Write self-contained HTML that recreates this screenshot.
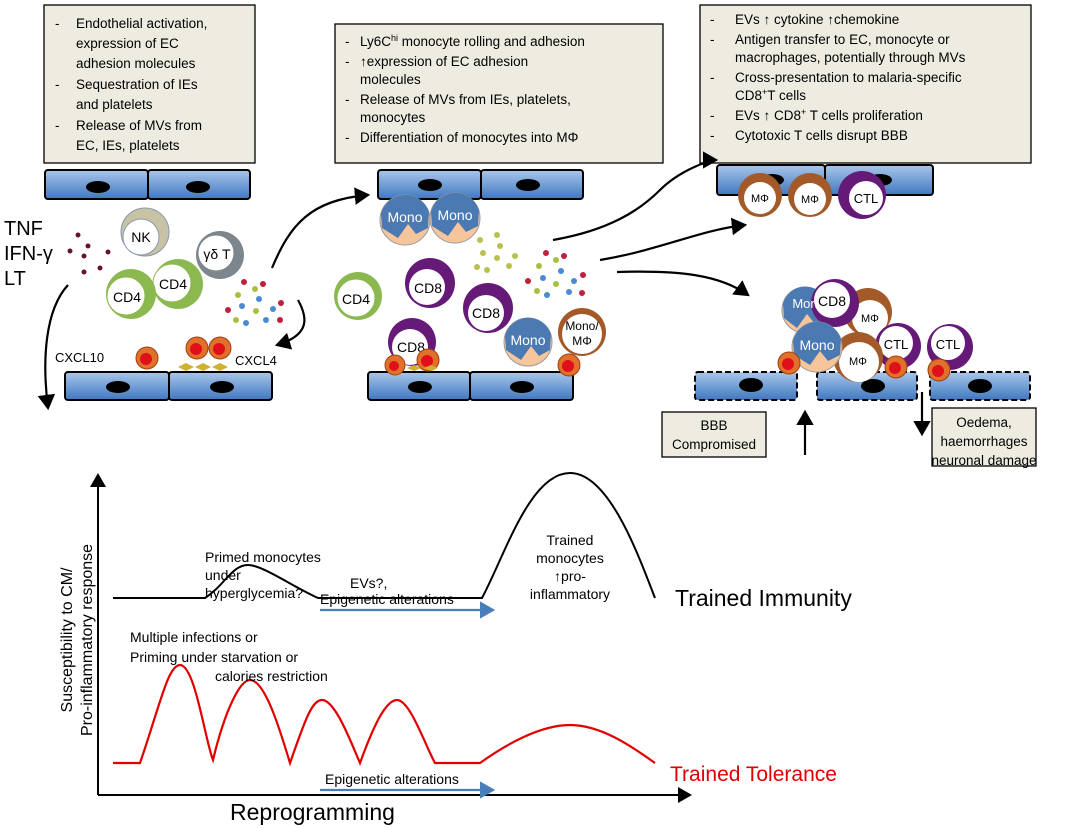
<!DOCTYPE html><html><head><style>body{margin:0;background:#fff}svg{display:block}text{font-family:"Liberation Sans",sans-serif}</style></head><body>
<svg width="1084" height="828" viewBox="0 0 1084 828" xmlns="http://www.w3.org/2000/svg">
<defs>
<linearGradient id="ec" x1="0" y1="0" x2="0" y2="1"><stop offset="0" stop-color="#a9c6ea"/><stop offset="1" stop-color="#3f78c0"/></linearGradient>
<marker id="ah" markerWidth="8" markerHeight="8" refX="6" refY="4" orient="auto" markerUnits="strokeWidth"><path d="M0,0 L7,4 L0,8 z" fill="#000"/></marker>
<marker id="bh" markerWidth="8" markerHeight="8" refX="6" refY="4" orient="auto" markerUnits="strokeWidth"><path d="M0,0 L7,4 L0,8 z" fill="#4a7ebb"/></marker>
</defs>
<g fill="#eeece1" stroke="#000" stroke-width="1.3">
<rect x="44" y="5" width="211" height="158"/><rect x="335" y="24" width="328" height="139"/><rect x="700" y="5" width="331" height="158"/>
<rect x="662" y="412" width="104" height="45"/><rect x="932" y="408" width="104" height="58"/></g>
<g font-size="13.5" fill="#000">
<text x="55" y="28">-</text><text x="76" y="28">Endothelial activation,</text><text x="76" y="48">expression of EC</text><text x="76" y="68">adhesion molecules</text><text x="55" y="89">-</text><text x="76" y="89">Sequestration of IEs</text><text x="76" y="109">and platelets</text><text x="55" y="130">-</text><text x="76" y="130">Release of MVs from</text><text x="76" y="150">EC, IEs, platelets</text>
<text x="345" y="46">-</text><text x="360" y="46">Ly6C<tspan font-size="9" dy="-5">hi</tspan><tspan dy="5"> monocyte rolling and adhesion</tspan></text>
<text x="345" y="66">-</text><text x="360" y="66">↑expression of EC adhesion</text><text x="360" y="84">molecules</text>
<text x="345" y="104">-</text><text x="360" y="104">Release of MVs from IEs, platelets,</text><text x="360" y="122">monocytes</text>
<text x="345" y="142">-</text><text x="360" y="142">Differentiation of monocytes into MΦ</text>
<text x="710" y="24">-</text><text x="735" y="24">EVs ↑ cytokine ↑chemokine</text>
<text x="710" y="44">-</text><text x="735" y="44">Antigen transfer to EC, monocyte or</text><text x="735" y="62">macrophages, potentially through MVs</text>
<text x="710" y="82">-</text><text x="735" y="82">Cross-presentation to malaria-specific</text><text x="735" y="100">CD8<tspan font-size="9" dy="-5">+</tspan><tspan dy="5">T cells</tspan></text>
<text x="710" y="120">-</text><text x="735" y="120">EVs ↑ CD8<tspan font-size="9" dy="-5">+</tspan><tspan dy="5"> T cells proliferation</tspan></text>
<text x="710" y="140">-</text><text x="735" y="140">Cytotoxic T cells disrupt BBB</text>
<text x="714" y="430" text-anchor="middle">BBB</text><text x="714" y="449" text-anchor="middle">Compromised</text>
<text x="984" y="427" text-anchor="middle">Oedema,</text><text x="984" y="446" text-anchor="middle">haemorrhages</text><text x="984" y="465" text-anchor="middle">neuronal damage</text>
</g>
<g font-size="20"><text x="4" y="235">TNF</text><text x="4" y="260">IFN-γ</text><text x="4" y="285">LT</text></g>
<g font-size="13"><text x="55" y="362">CXCL10</text><text x="235" y="365">CXCL4</text></g>
<!-- endothelium -->
<g stroke="#000" stroke-width="2" fill="url(#ec)">
<rect x="45" y="170" width="103" height="29" rx="3"/><rect x="148" y="170" width="102" height="29" rx="3"/>
<rect x="378" y="170" width="103" height="29" rx="3"/><rect x="481" y="170" width="102" height="29" rx="3"/>
<rect x="717" y="165" width="108" height="30" rx="3"/><rect x="825" y="165" width="108" height="30" rx="3"/>
<rect x="65" y="372" width="104" height="28" rx="3"/><rect x="169" y="372" width="103" height="28" rx="3"/>
<rect x="368" y="372" width="102" height="28" rx="3"/><rect x="470" y="372" width="103" height="28" rx="3"/>
<g stroke-dasharray="6,3"><rect x="695" y="372" width="102" height="28" rx="3"/><rect x="817" y="372" width="100" height="28" rx="3"/><rect x="930" y="372" width="100" height="28" rx="3"/></g>
</g>
<g fill="#000"><ellipse cx="98" cy="187" rx="12" ry="6"/><ellipse cx="198" cy="187" rx="12" ry="6"/><ellipse cx="430" cy="185" rx="12" ry="6"/><ellipse cx="528" cy="185" rx="12" ry="6"/><ellipse cx="772" cy="180" rx="12" ry="6"/><ellipse cx="880" cy="180" rx="12" ry="6"/>
<ellipse cx="118" cy="387" rx="12" ry="6"/><ellipse cx="222" cy="387" rx="12" ry="6"/><ellipse cx="420" cy="387" rx="12" ry="6"/><ellipse cx="522" cy="387" rx="12" ry="6"/><ellipse cx="751" cy="385" rx="12" ry="7"/><ellipse cx="873" cy="386" rx="12" ry="7"/><ellipse cx="980" cy="386" rx="12" ry="7"/></g>
<!-- cytokine dots -->
<g fill="#6a1030"><circle cx="78" cy="235" r="2.5"/><circle cx="88" cy="246" r="2.5"/><circle cx="108" cy="252" r="2.5"/><circle cx="70" cy="251" r="2.5"/><circle cx="84" cy="256" r="2.5"/><circle cx="100" cy="268" r="2.5"/><circle cx="84" cy="272" r="2.5"/></g>
<g><circle cx="244" cy="282" r="3" fill="#c0203a"/><circle cx="263" cy="284" r="3" fill="#c0203a"/><circle cx="281" cy="303" r="3" fill="#c0203a"/><circle cx="228" cy="310" r="3" fill="#c0203a"/><circle cx="280" cy="320" r="3" fill="#c0203a"/>
<circle cx="255" cy="289" r="3" fill="#a8c040"/><circle cx="238" cy="295" r="3" fill="#a8c040"/><circle cx="256" cy="311" r="3" fill="#a8c040"/><circle cx="236" cy="320" r="3" fill="#a8c040"/>
<circle cx="259" cy="299" r="3" fill="#4a8ad0"/><circle cx="242" cy="306" r="3" fill="#4a8ad0"/><circle cx="273" cy="309" r="3" fill="#4a8ad0"/><circle cx="246" cy="323" r="3" fill="#4a8ad0"/><circle cx="266" cy="320" r="3" fill="#4a8ad0"/>
<g fill="#b8c050"><circle cx="480" cy="240" r="3"/><circle cx="497" cy="235" r="3"/><circle cx="500" cy="246" r="3"/><circle cx="483" cy="253" r="3"/><circle cx="497" cy="258" r="3"/><circle cx="515" cy="256" r="3"/><circle cx="477" cy="267" r="3"/><circle cx="487" cy="270" r="3"/><circle cx="509" cy="266" r="3"/></g>
<circle cx="546" cy="253" r="3" fill="#c0203a"/><circle cx="564" cy="256" r="3" fill="#c0203a"/><circle cx="528" cy="281" r="3" fill="#c0203a"/><circle cx="583" cy="275" r="3" fill="#c0203a"/><circle cx="582" cy="293" r="3" fill="#c0203a"/>
<circle cx="556" cy="260" r="3" fill="#a8c040"/><circle cx="539" cy="266" r="3" fill="#a8c040"/><circle cx="556" cy="284" r="3" fill="#a8c040"/><circle cx="537" cy="291" r="3" fill="#a8c040"/>
<circle cx="561" cy="271" r="3" fill="#4a8ad0"/><circle cx="543" cy="278" r="3" fill="#4a8ad0"/><circle cx="574" cy="281" r="3" fill="#4a8ad0"/><circle cx="547" cy="295" r="3" fill="#4a8ad0"/><circle cx="569" cy="292" r="3" fill="#4a8ad0"/></g>
<!-- crescent cells -->
<g font-size="14" text-anchor="middle">
<g><circle cx="145" cy="232" r="24" fill="#c8c3a5" stroke="#8899aa"/><circle cx="141" cy="237" r="18" fill="#fff" stroke="#8899aa"/><text x="141" y="242">NK</text></g>
<g><circle cx="220" cy="255" r="24" fill="#7c868c"/><circle cx="216" cy="253" r="18" fill="#fff" stroke="#7c868c"/><text x="217" y="259">γδ T</text></g>
<g><circle cx="178" cy="284" r="25" fill="#8cb850"/><circle cx="172" cy="283" r="19" fill="#fff" stroke="#8cb850"/><text x="173" y="289">CD4</text></g>
<g><circle cx="131" cy="294" r="25" fill="#8cb850"/><circle cx="126" cy="296" r="19" fill="#fff" stroke="#8cb850"/><text x="127" y="302">CD4</text></g>
<g><circle cx="358" cy="296" r="24" fill="#8cb850"/><circle cx="356" cy="298" r="19" fill="#fff" stroke="#8cb850"/><text x="356" y="304">CD4</text></g>
<g><circle cx="430" cy="283" r="25" fill="#651a78"/><circle cx="427" cy="287" r="18" fill="#fff"/><text x="428" y="293">CD8</text></g>
<g><circle cx="488" cy="308" r="25" fill="#651a78"/><circle cx="486" cy="313" r="18" fill="#fff"/><text x="486" y="318">CD8</text></g>
<g><circle cx="412" cy="342" r="24" fill="#651a78"/><circle cx="410" cy="347" r="18" fill="#fff"/><text x="411" y="352">CD8</text></g>
<g><circle cx="582" cy="332" r="24" fill="#a35a28"/><circle cx="582" cy="334" r="20" fill="#fff"/><text x="582" y="330" font-size="12">Mono/</text><text x="582" y="345" font-size="12">MΦ</text></g>
<g><circle cx="760" cy="195" r="22" fill="#a35a28"/><circle cx="760" cy="198" r="16" fill="#fff"/><text x="760" y="202" font-size="11">MΦ</text></g>
<g><circle cx="810" cy="195" r="22" fill="#a35a28"/><circle cx="810" cy="199" r="16" fill="#fff"/><text x="810" y="203" font-size="11">MΦ</text></g>
<g><circle cx="862" cy="195" r="24" fill="#651a78"/><circle cx="866" cy="198" r="17" fill="#fff"/><text x="866" y="203" font-size="13">CTL</text></g>
<!-- mono -->
<g><circle cx="405" cy="220" r="25" fill="#f7c59c" stroke="#999"/><path d="M381,214 A25,25 0 0 1 429,212 L428,228 L416,234 L408,224 L398,238 L382,228z" fill="#4b79b2"/><text x="405" y="222" fill="#fff">Mono</text></g>
<g><circle cx="455" cy="218" r="25" fill="#f7c59c" stroke="#999"/><path d="M431,212 A25,25 0 0 1 479,210 L478,226 L466,232 L458,222 L448,236 L432,226z" fill="#4b79b2"/><text x="455" y="220" fill="#fff">Mono</text></g>
<g><circle cx="528" cy="342" r="24" fill="#f7c59c" stroke="#999"/><path d="M505,336 A24,24 0 0 1 551,334 L550,350 L539,356 L531,346 L521,360 L506,350z" fill="#4b79b2"/><text x="528" y="345" fill="#fff">Mono</text></g>
<g><circle cx="805" cy="310" r="23" fill="#f7c59c" stroke="#999"/><path d="M783,304 A23,23 0 0 1 827,302 L826,318 L815,324 L807,314 L797,328 L784,318z" fill="#4b79b2"/></g>
<g><circle cx="868" cy="312" r="24" fill="#a35a28"/><circle cx="870" cy="318" r="18" fill="#fff"/><text x="870" y="322" font-size="11">MΦ</text></g>
<g><circle cx="835" cy="303" r="24" fill="#651a78"/><circle cx="832" cy="300" r="18" fill="#fff"/><text x="832" y="306">CD8</text></g>
<text x="805" y="308" fill="#fff" font-size="13">Mon</text>
<g><circle cx="950" cy="347" r="23" fill="#651a78"/><circle cx="948" cy="343" r="17" fill="#fff"/><text x="948" y="349" font-size="13">CTL</text></g>
<g><circle cx="898" cy="346" r="23" fill="#651a78"/><circle cx="896" cy="343" r="17" fill="#fff"/><text x="896" y="349" font-size="13">CTL</text></g>
<g><circle cx="858" cy="357" r="25" fill="#a35a28"/><circle cx="859" cy="362" r="20" fill="#fff"/><text x="858" y="365" font-size="11">MΦ</text></g>
<g><circle cx="817" cy="347" r="25" fill="#f7c59c" stroke="#999"/><path d="M793,341 A25,25 0 0 1 841,339 L840,355 L828,361 L820,351 L810,365 L794,355z" fill="#4b79b2"/><text x="817" y="350" fill="#fff">Mono</text></g>
</g>
<!-- IEs -->
<g><g fill="#e0702a" stroke="#a04010"><circle cx="147" cy="358" r="11"/><circle cx="197" cy="348" r="11"/><circle cx="220" cy="348" r="11"/><circle cx="395" cy="365" r="10"/><circle cx="428" cy="360" r="11"/><circle cx="569" cy="365" r="11"/><circle cx="789" cy="363" r="11"/><circle cx="896" cy="367" r="11"/><circle cx="939" cy="370" r="11"/></g>
<g fill="#e0101a"><circle cx="146" cy="359" r="6"/><circle cx="196" cy="349" r="6"/><circle cx="219" cy="349" r="6"/><circle cx="394" cy="366" r="5"/><circle cx="427" cy="361" r="6"/><circle cx="568" cy="366" r="6"/><circle cx="788" cy="364" r="6"/><circle cx="895" cy="368" r="6"/><circle cx="938" cy="371" r="6"/></g>
<g fill="#d0b030"><path d="M178,367 l8,-4 l8,4 l-8,4z"/><path d="M195,367 l8,-4 l8,4 l-8,4z"/><path d="M212,367 l8,-4 l8,4 l-8,4z"/><path d="M407,368 l7,-3 l7,3 l-7,3z"/><path d="M424,368 l7,-3 l7,3 l-7,3z"/></g></g>
<!-- arrows -->
<g fill="none" stroke="#000" stroke-width="2.2">
<path d="M68,285 C45,310 42,360 48,408" marker-end="url(#ah)"/>
<path d="M298,300 C308,318 310,335 277,345" marker-end="url(#ah)"/>
<path d="M272,268 C290,225 310,200 368,195" marker-end="url(#ah)"/>
<path d="M553,240 C610,230 640,210 660,190 C680,170 710,160 716,160" marker-end="url(#ah)"/>
<path d="M600,260 C660,250 700,230 745,225" marker-end="url(#ah)"/>
<path d="M617,272 C680,270 720,275 748,295" marker-end="url(#ah)"/>
<path d="M805,455 L805,412" marker-end="url(#ah)"/>
<path d="M922,392 L922,434" marker-end="url(#ah)"/>
</g>
<!-- graph -->
<g stroke="#000" stroke-width="2" fill="none">
<path d="M98,795 L98,475" marker-end="url(#ah)"/><path d="M98,795 L690,795" marker-end="url(#ah)"/>
<path d="M113,598 L205,598 C225,585 232,565 248,565 C262,565 290,585 318,598 L482,598 C505,555 530,473 570,473 C610,473 640,560 655,598"/>
</g>
<path d="M113,763 L140,763 C160,705 168,665 180,665 C195,665 205,740 213,760 C225,710 240,680 250,680 C265,680 280,730 290,763 C305,720 312,700 322,700 C335,700 350,740 360,763 C372,730 385,700 397,700 C410,700 425,745 435,763 L480,763 C505,745 540,725 570,725 C600,725 630,745 655,763" fill="none" stroke="#e00000" stroke-width="2.2"/>
<g stroke="#4a7ebb" stroke-width="2.2"><path d="M320,610 L493,610" marker-end="url(#bh)"/><path d="M320,790 L493,790" marker-end="url(#bh)"/></g>
<g font-size="14" fill="#000">
<text x="205" y="562">Primed monocytes</text><text x="205" y="580">under</text><text x="205" y="598">hyperglycemia?</text>
<text x="570" y="545" text-anchor="middle">Trained</text><text x="570" y="563" text-anchor="middle">monocytes</text><text x="570" y="581" text-anchor="middle">↑pro-</text><text x="570" y="599" text-anchor="middle">inflammatory</text>
<text x="350" y="588">EVs?,</text><text x="320" y="604">Epigenetic alterations</text>
<text x="130" y="642">Multiple infections or</text><text x="130" y="662">Priming under starvation or</text><text x="215" y="681">calories restriction</text>
<text x="325" y="784">Epigenetic alterations</text>
</g>
<text x="675" y="606" font-size="23">Trained Immunity</text>
<text x="670" y="781" font-size="21" fill="#e00000">Trained Tolerance</text>
<text x="230" y="820" font-size="23">Reprogramming</text>
<g font-size="16" text-anchor="middle"><text transform="translate(72,640) rotate(-90)">Susceptibility to CM/</text><text transform="translate(92,640) rotate(-90)">Pro-inflammatory response</text></g>
</svg></body></html>
